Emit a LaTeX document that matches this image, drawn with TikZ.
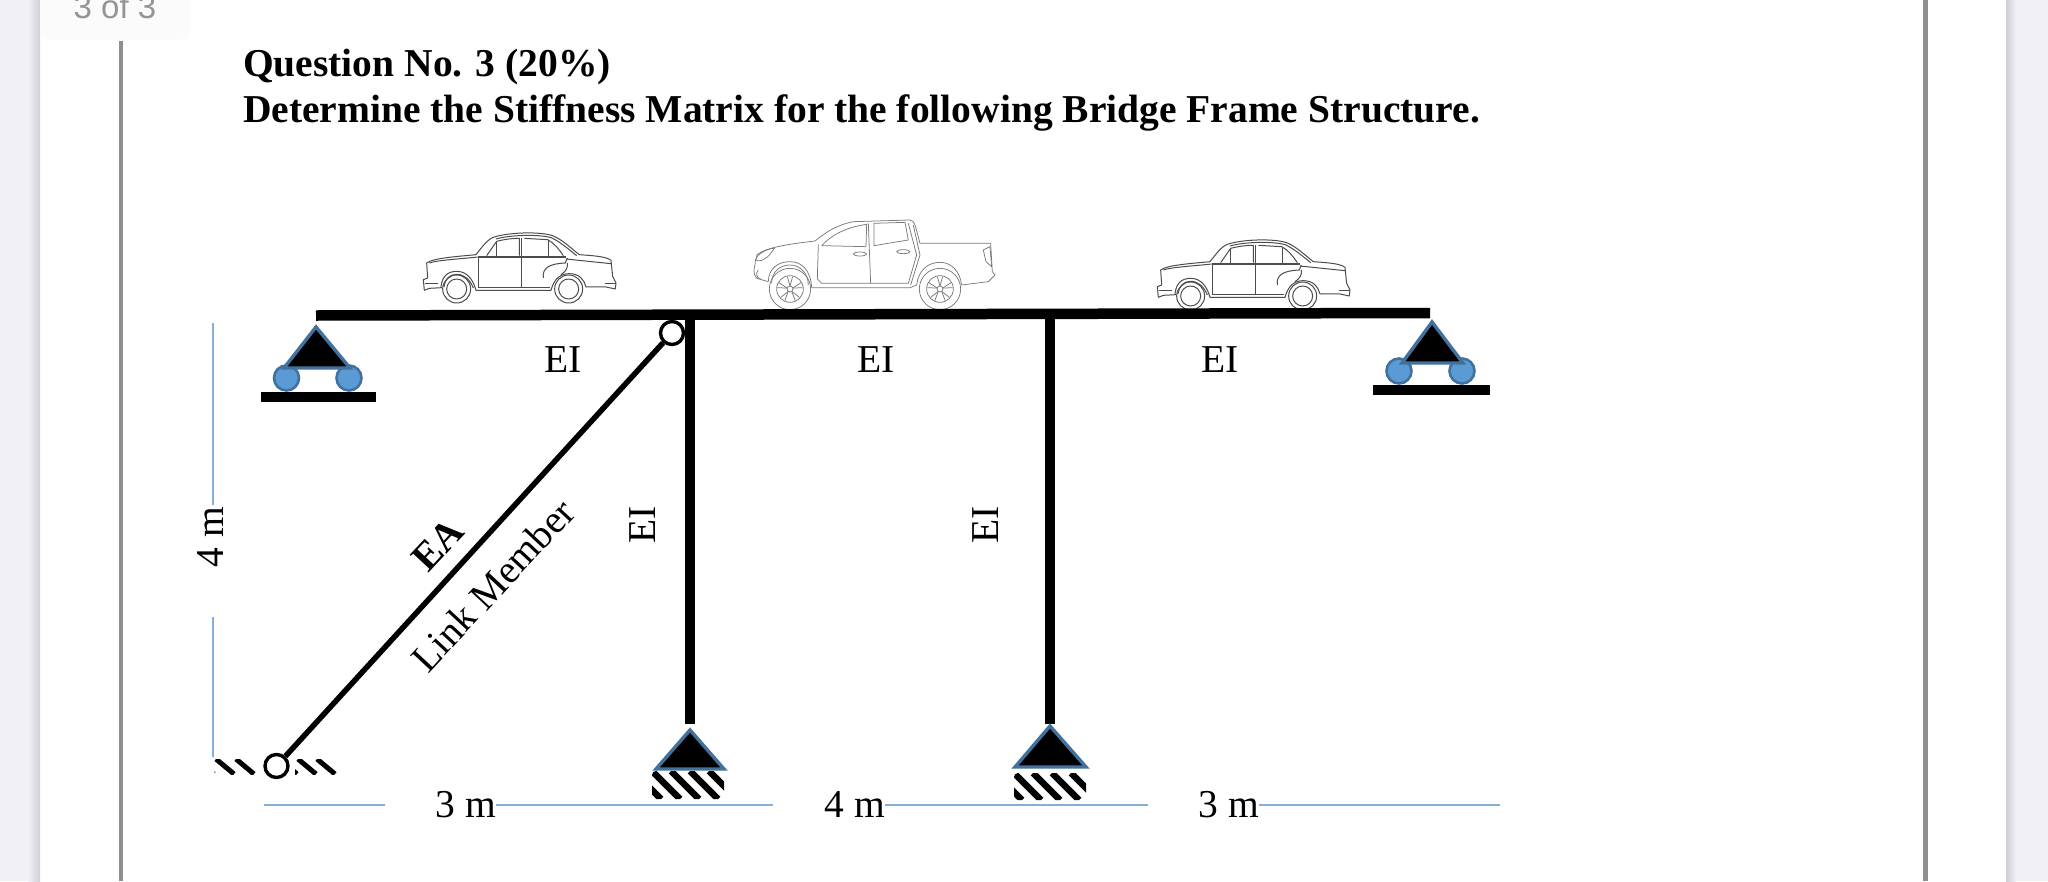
\documentclass[tikz,border=0pt]{standalone}
\usepackage{fontspec}
\setmainfont{Liberation Serif}
\newfontfamily\tabfont{Liberation Sans}
\definecolor{pagebg}{HTML}{F1F0F7}
\definecolor{shadowc}{HTML}{CFCED6}
\definecolor{dimblue}{HTML}{86AEDB}
\definecolor{rollerfill}{HTML}{5B9BD5}
\definecolor{rollerline}{HTML}{41719C}
\definecolor{framegray}{HTML}{8F8F8F}
\newcommand{\sedancar}{%
  \draw[carline] (175,232) -- (172,200) -- (185,195) -- (182,150) .. controls (200,135) and (280,130) .. (330,125)
     .. controls (350,100) and (365,78) .. (385,72) .. controls (430,58) and (520,55) .. (560,68)
     .. controls (590,80) and (620,110) .. (640,125) .. controls (680,128) and (720,130) .. (735,142)
     -- (740,190) -- (750,210) -- (748,228) -- (720,222) -- (660,222);
  \draw[carline] (190,150) .. controls (210,142) and (280,138) .. (335,132);
  \draw[carline] (390,78) .. controls (430,66) and (515,63) .. (556,74) .. controls (585,88) and (612,112) .. (632,128);
  \draw[carline] (175,232) -- (190,226) -- (228,224);
  \draw[carline] (176,212) -- (215,212);
  \draw[carline] (716,212) -- (750,212);
  \draw[carline] (225,222) .. controls (228,190) and (245,175) .. (272,175) .. controls (300,175) and (320,195) .. (330,232) -- (555,232)
     .. controls (565,195) and (585,182) .. (610,182) .. controls (640,182) and (655,200) .. (660,222);
  \draw[carline] (234,222) .. controls (238,196) and (252,184) .. (272,184) .. controls (295,184) and (312,200) .. (322,225);
  \draw[carline] (335,225) -- (552,225);
  \draw[carline] (272,228) circle[radius=42] (272,228) circle[radius=30];
  \draw[carline] (608,228) circle[radius=42] (608,228) circle[radius=30];
  \draw[carline] (338,130) -- (338,225);
  \draw[carline,line width=1.6pt] (467,75) -- (467,225);
  \draw[carline] (362,128) -- (392,85) .. controls (420,78) and (440,76) .. (460,76) -- (460,128);
  \draw[carline] (475,76) -- (545,80) .. controls (565,90) and (580,110) .. (592,128);
  \draw[carline,line width=1.6pt] (392,85) -- (392,128);
  \draw[carline,line width=1.6pt] (548,82) -- (548,128);
  \draw[carline,line width=1.6pt] (335,132) -- (600,132);
  \draw[carline] (600,138) -- (735,152);
  \draw[carline] (532,195) .. controls (528,165) and (550,152) .. (598,150) -- (604,135);
  \draw[carline] (604,150) .. controls (606,165) and (600,175) .. (585,185);
}
\newcommand{\pickupwheel}[2]{%
  \draw[pickline] (#1,#2) circle[radius=62] (#1,#2) circle[radius=40] (#1,#2) circle[radius=9];
  \foreach \a in {90,162,234,306,18}{
    \draw[pickline] ({#1+9*cos(\a)},{#2-9*sin(\a)}) -- ({#1+38*cos(\a+12)},{#2-38*sin(\a+12)});
    \draw[pickline] ({#1+9*cos(\a)},{#2-9*sin(\a)}) -- ({#1+38*cos(\a-12)},{#2-38*sin(\a-12)});
  }
}
\newcommand{\hatchbox}[4]{%
  \begin{scope}
    \clip[rounded corners=4pt] (#1,#2) rectangle (#3,#4);
    \pgfmathsetmacro{\hh}{#4-#2}
    \foreach \o in {-38,-19,...,95}{
      \draw[line width=6.5pt] ({#1+\o},#2) -- ({#1+\o+\hh},#4);
    }
  \end{scope}
}
\tikzset{
  x=1pt,y=-1pt,
  member/.style={line width=10.5pt,line cap=butt},
  linkbar/.style={line width=5.5pt,line cap=butt},
  dimline/.style={draw=dimblue,line width=1.6pt},
  hinge/.style={circle,draw=black,fill=white,line width=3.4pt,minimum size=23pt,inner sep=0pt},
  supporttri/.style={fill=black,draw=rollerline,line width=3.4pt,line join=miter},
  roller/.style={circle,fill=rollerfill,draw=rollerline,line width=2.6pt,minimum size=25pt,inner sep=0pt},
  groundbar/.style={fill=black,draw=none},
  carline/.style={draw=black!70,line width=1pt,line join=round},
  pickline/.style={draw=black!52,line width=0.75pt,line join=round},
  lab/.style={inner sep=0pt,font=\fontsize{39.5}{44}\selectfont},
  titletext/.style={inner sep=0pt,anchor=base west,font=\fontsize{39.5}{46}\selectfont\bfseries},
}
\begin{document}
\begin{tikzpicture}
\clip (0,0) rectangle (2048,881);
\useasboundingbox (0,0) rectangle (2048,881);
% page
\fill[pagebg] (0,0) rectangle (2048,881);
\fill[white] (40,0) rectangle (2006,881);
\shade[left color=pagebg,right color=shadowc] (28,0) rectangle (40,881);
\shade[left color=shadowc,right color=pagebg] (2006,0) rectangle (2016,881);
\fill[black!1.5!white,rounded corners=8pt] (40,-20) rectangle (190,40);
\node[anchor=base,inner sep=0pt,text=black!42,font=\fontsize{33}{38}\selectfont\tabfont] (tab) at (115,18) {3 of 3};
\fill[framegray] (118.5,41) rectangle (123,881);
\fill[framegray] (1922.5,0) rectangle (1927.5,881);
% title
\node[titletext] (t1) at (243,76) {Question No. 3 (20\%)};
\node[titletext] (t2) at (243,122) {Determine the Stiffness Matrix for the following Bridge Frame Structure.};
% cars
\begin{scope}[shift={(1100,220)},scale=0.3333]\sedancar\end{scope}
\begin{scope}[shift={(366,213)},scale=0.3333]\sedancar\end{scope}
\begin{scope}[shift={(740,205)},scale=0.3333]
  \draw[pickline] (85,230) -- (50,220) .. controls (38,205) and (42,190) .. (45,180) .. controls (45,160) and (48,145) .. (100,128)
     .. controls (140,118) and (190,112) .. (225,108) .. controls (260,80) and (290,60) .. (340,50) -- (510,45) .. controls (525,48) and (525,60) .. (540,115)
     -- (752,115) -- (757,200) -- (765,210) -- (745,230) -- (665,240);
  \draw[pickline] (85,230) .. controls (85,190) and (115,170) .. (150,170) .. controls (185,170) and (212,195) .. (215,248);
  \draw[pickline] (95,235) .. controls (95,200) and (120,180) .. (150,180) .. controls (180,180) and (205,205) .. (205,240);
  \draw[pickline] (530,240) .. controls (535,195) and (565,172) .. (600,172) .. controls (635,172) and (660,200) .. (665,240);
  \draw[pickline] (215,248) -- (510,248) -- (530,240);
  \draw[pickline] (235,118) -- (232,222) -- (245,235) -- (505,235);
  \draw[pickline] (385,55) -- (392,235);
  \draw[pickline] (245,122) .. controls (270,95) and (310,68) .. (380,58) -- (378,125) -- (245,122);
  \draw[pickline] (402,55) -- (495,52) -- (505,105) -- (402,122) -- cycle;
  \draw[pickline] (505,55) -- (530,150) -- (505,235);
  \draw[pickline] (520,60) -- (540,150) -- (512,240);
  \draw[pickline] (360,147) ellipse[x radius=20,y radius=6];
  \draw[pickline] (490,140) ellipse[x radius=20,y radius=6];
  \draw[pickline] (50,150) .. controls (70,135) and (90,130) .. (103,130) .. controls (90,150) and (75,170) .. (50,167) -- cycle;
  \draw[pickline] (730,135) -- (750,125) -- (755,185) -- (738,170) -- cycle;
  \draw[pickline] (55,195) .. controls (45,205) and (50,220) .. (62,222);
  \pickupwheel{150}{252}
  \pickupwheel{600}{252}
\end{scope}
% named points
\coordinate (beamL) at (316,315.5);
\coordinate (beamR) at (1430,313);
\coordinate (col1T) at (690,312);
\coordinate (col1B) at (690,724);
\coordinate (col2T) at (1050,312);
\coordinate (col2B) at (1050,724);
% members
\draw[member] (beamL) -- (beamR);
\draw[member] (col1T) -- (col1B);
\draw[member] (col2T) -- (col2B);
\node[hinge] (hingeT) at (672,333) {};
\node[hinge] (hingeB) at (276.5,766) {};
\draw[linkbar] (hingeB) -- (hingeT);
% left roller
\node[roller] (r1) at (286.5,378) {};
\node[roller] (r2) at (349,378) {};
\draw[supporttri] (316,327) -- (350,368) -- (284,368) -- cycle;
\fill[groundbar] (261,392) rectangle (376,402);
% right roller
\node[roller] (r3) at (1399,371) {};
\node[roller] (r4) at (1462,371) {};
\draw[supporttri] (1432,322) -- (1463,363) -- (1402,363) -- cycle;
\fill[groundbar] (1373,385) rectangle (1490,395);
% pinned supports
\draw[supporttri] (690,730) -- (724,769) -- (656,769) -- cycle;
\hatchbox{652}{771}{724}{799}
\draw[supporttri] (1050,726) -- (1086,767) -- (1015,767) -- cycle;
\hatchbox{1014}{773}{1086}{800}
% ground at link
\begin{scope}
  \clip (214.5,759) rectangle (263,774);
  \foreach \o in {196,216,236}{\draw[line width=5pt] (\o,759) -- ({\o+18},774);}
\end{scope}
\begin{scope}
  \clip (295,759) rectangle (341,774);
  \foreach \o in {279,298,317}{\draw[line width=5pt] (\o,759) -- ({\o+18},774);}
\end{scope}
% dimensions
\node[lab,rotate=90] (d4) at (210,537) {4 m};
\coordinate (d4a) at (213,323);
\coordinate (d4b) at (213,757);
\draw[dimline] (d4a) -- (213,505);
\draw[dimline] (213,617) -- (d4b);
\node[lab,anchor=base] (d3a) at (466,817) {3 m};
\node[lab,anchor=base] (d4h) at (855,817) {4 m};
\node[lab,anchor=base] (d3b) at (1229,817) {3 m};
\coordinate (h0) at (263.5,805);
\coordinate (h1) at (385,805);
\coordinate (h5) at (1500,805);
\draw[dimline] (h0) -- (h1);
\draw[dimline] (d3a.east |- h0) -- (773,805);
\draw[dimline] (d4h.east |- h0) -- (1148,805);
\draw[dimline] (d3b.east |- h0) -- (h5);
% labels
\node[lab] (ei1) at (563,360) {EI};
\node[lab] (ei2) at (876,360) {EI};
\node[lab] (ei3) at (1220,360) {EI};
\node[lab,rotate=90] (ei4) at (643,525) {EI};
\node[lab,rotate=90] (ei5) at (986,525) {EI};
\node[lab,rotate=47,font=\fontsize{39.5}{44}\selectfont\bfseries] (ea) at (438,545) {EA};
\node[lab,rotate=47] (lm) at (493,585) {Link Member};
\end{tikzpicture}
\end{document}
